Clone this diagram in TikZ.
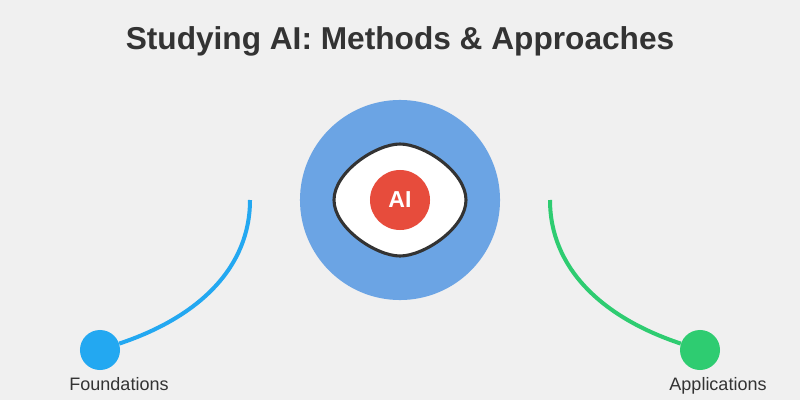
\documentclass[tikz,border=0pt]{standalone}
\usepackage{fontspec}
\setmainfont{Liberation Sans}
\usepackage{xcolor}
\usepackage{tikz}
\usetikzlibrary{calc,positioning}
\definecolor{bgcol}{HTML}{F0F0F0}
\definecolor{txtgray}{HTML}{333333}
\definecolor{ringblue}{HTML}{6BA4E4}
\definecolor{corered}{HTML}{E74C3C}
\definecolor{foundblue}{HTML}{23A8F1}
\definecolor{applgreen}{HTML}{2ECC71}
\tikzset{
  ring_n/.style = {circle, fill=ringblue, minimum size=5cm, inner sep=0pt},
  core_n/.style = {circle, fill=corered, minimum size=1.5cm, inner sep=0pt, text=white, font=\fontsize{16.4}{18}\selectfont\bfseries},
  end_n/.style = {circle, minimum size=1cm, inner sep=0pt},
  lbl_n/.style = {text=txtgray, anchor=base, font=\fontsize{12.8}{14}\selectfont},
  link/.style = {line width=2.85pt}
}

\begin{document}
\begin{tikzpicture}[x=0.025cm, y=-0.025cm]
  \fill[bgcol] (0,0) rectangle (800,400);
  \node[anchor=base, text=txtgray, font=\fontsize{22.5}{26}\selectfont\bfseries] (title) at (400,50) {Studying AI: Methods \& Approaches};

  \node[ring_n] (ring) at (400,200) {};
  \draw[line width=2.2pt, draw=txtgray, fill=white]
    (334,200) .. controls (334,172) and (376,144) .. (400,144)
              .. controls (424,144) and (466,172) .. (466,200)
              .. controls (466,228) and (424,256) .. (400,256)
              .. controls (376,256) and (334,228) .. cycle;
  \node[core_n] (ai) at (400,200) {AI};

  \node[end_n, fill=foundblue] (found) at (100,350) {};
  \node[end_n, fill=applgreen] (appl) at (700,350) {};
  \node[lbl_n] (foundlbl) at (119,390) {Foundations};
  \node[lbl_n] (appllbl) at (718,390) {Applications};

  \coordinate (fstart) at (250,200);
  \coordinate (astart) at (550,200);
  \draw[link, draw=foundblue] (fstart) .. controls (250,266.7) and (200,316.7) .. (found);
  \draw[link, draw=applgreen] (astart) .. controls (550,266.7) and (600,316.7) .. (appl);
\end{tikzpicture}
\end{document}
